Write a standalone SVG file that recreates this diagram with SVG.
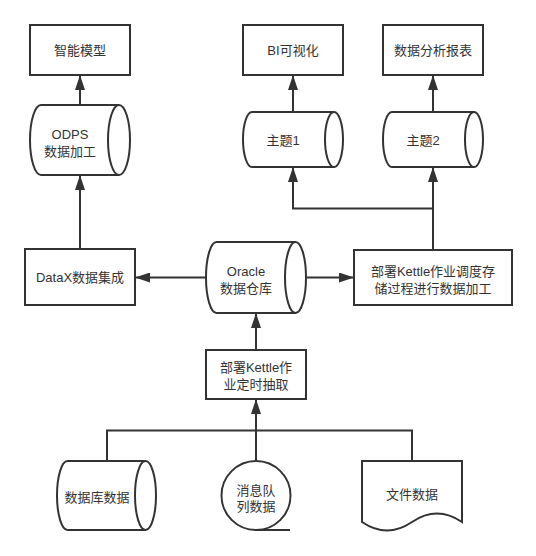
<svg xmlns="http://www.w3.org/2000/svg" width="536" height="556" viewBox="0 0 536 556">
<style>
.s{fill:#ffffff;stroke:#333333;stroke-width:2}
.l{fill:none;stroke:#333333;stroke-width:2}
.t{font-family:"Liberation Sans","Noto Sans CJK SC",sans-serif;font-size:13px;fill:#333333;text-anchor:middle;dominant-baseline:central}
</style>
<defs>
<marker id="ah" viewBox="0 0 15 10" markerWidth="15" markerHeight="10" refX="15" refY="5" orient="auto" markerUnits="userSpaceOnUse">
<path d="M0,0 L15,5 L0,10 Z" fill="#333333"/>
</marker>
</defs>
<rect width="536" height="556" fill="#ffffff"/>
<g id="connectors" class="l">
<path d="M80,105 V75" marker-end="url(#ah)"/>
<path d="M80,249 V175" marker-end="url(#ah)"/>
<path d="M293,112 V75" marker-end="url(#ah)"/>
<path d="M433,112 V75" marker-end="url(#ah)"/>
<path d="M433,250 V167" marker-end="url(#ah)"/>
<path d="M433,208.5 H293 V167" marker-end="url(#ah)"/>
<path d="M206,277.5 H135" marker-end="url(#ah)"/>
<path d="M306,277.5 H354" marker-end="url(#ah)"/>
<path d="M256,350 V313" marker-end="url(#ah)"/>
<path d="M256,461 V399" marker-end="url(#ah)"/>
<path d="M107,461 V430.5 H412 V461"/>
</g>
<g id="n-zhineng">
<rect class="s" x="30" y="25" width="100" height="50"/>
<text class="t" x="80" y="50">智能模型</text>
</g>
<g id="n-bi">
<rect class="s" x="243" y="25" width="100" height="50"/>
<text class="t" x="293" y="50">BI可视化</text>
</g>
<g id="n-baobiao">
<rect class="s" x="383" y="25" width="100" height="50"/>
<text class="t" x="433" y="50">数据分析报表</text>
</g>
<g id="n-odps">
<path class="s" d="M41,105 H119 A11,35 0 0 1 119,175 H41 A11,35 0 0 1 41,105 Z"/>
<path class="l" d="M119,105 A11,35 0 0 0 119,175"/>
<text class="t" x="70" y="134">ODPS</text>
<text class="t" x="70" y="151">数据加工</text>
</g>
<g id="n-zhuti1">
<path class="s" d="M252,112 H334 A9,27.5 0 0 1 334,167 H252 A9,27.5 0 0 1 252,112 Z"/>
<path class="l" d="M334,112 A9,27.5 0 0 0 334,167"/>
<text class="t" x="283" y="140">主题1</text>
</g>
<g id="n-zhuti2">
<path class="s" d="M392,112 H474 A9,27.5 0 0 1 474,167 H392 A9,27.5 0 0 1 392,112 Z"/>
<path class="l" d="M474,112 A9,27.5 0 0 0 474,167"/>
<text class="t" x="423" y="140">主题2</text>
</g>
<g id="n-datax">
<rect class="s" x="25" y="249" width="110" height="56"/>
<text class="t" x="80" y="277">DataX数据集成</text>
</g>
<g id="n-oracle">
<path class="s" d="M216.5,242 H295.5 A10.5,35.5 0 0 1 295.5,313 H216.5 A10.5,35.5 0 0 1 216.5,242 Z"/>
<path class="l" d="M295.5,242 A10.5,35.5 0 0 0 295.5,313"/>
<text class="t" x="246" y="271">Oracle</text>
<text class="t" x="246" y="288">数据仓库</text>
</g>
<g id="n-kettle2">
<rect class="s" x="354" y="250" width="158" height="55"/>
<text class="t" x="433" y="271">部署Kettle作业调度存</text>
<text class="t" x="433" y="288">储过程进行数据加工</text>
</g>
<g id="n-kettle1">
<rect class="s" x="206" y="350" width="100" height="49"/>
<text class="t" x="256" y="367">部署Kettle作</text>
<text class="t" x="256" y="384">业定时抽取</text>
</g>
<g id="n-db">
<path class="s" d="M67.5,461 H145.5 A10.5,34.5 0 0 1 145.5,530 H67.5 A10.5,34.5 0 0 1 67.5,461 Z"/>
<path class="l" d="M145.5,461 A10.5,34.5 0 0 0 145.5,530"/>
<text class="t" x="97" y="497">数据库数据</text>
</g>
<g id="n-mq">
<circle class="s" cx="256" cy="495.5" r="34.5"/>
<path class="l" d="M256,530 H290"/>
<text class="t" x="256" y="490">消息队</text>
<text class="t" x="256" y="506">列数据</text>
</g>
<g id="n-file">
<path class="s" d="M362,461 H462 V522 Q437,505 412,522 Q387,539 362,522 Z"/>
<text class="t" x="412" y="494">文件数据</text>
</g>
</svg>
